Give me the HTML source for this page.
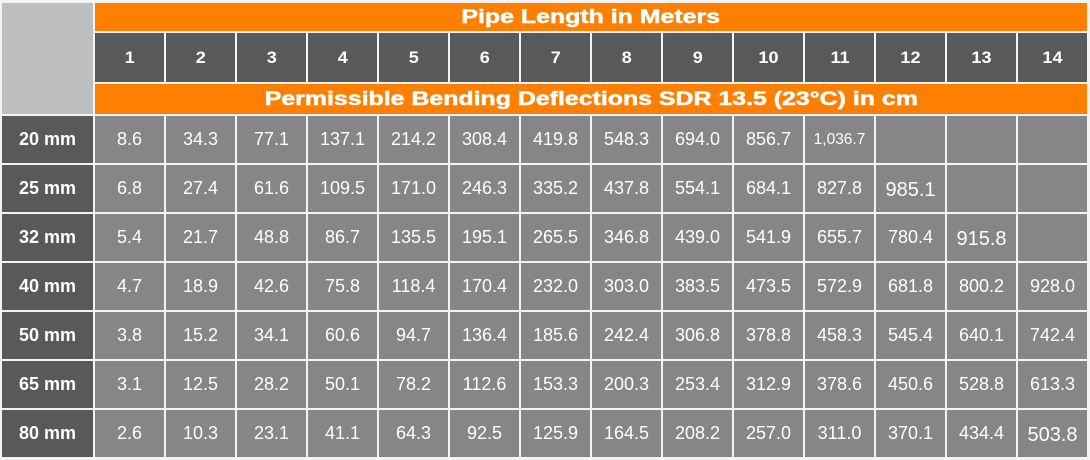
<!DOCTYPE html>
<html>
<head>
<meta charset="utf-8">
<style>
  html, body { margin: 0; padding: 0; }
  body { width: 1090px; height: 460px; background: #f3f3f3; overflow: hidden; position: relative;
         font-family: "Liberation Sans", Arial, sans-serif; }
  .grid { position: absolute; left: 2px; top: 3px; display: grid;
          grid-template-columns: 91px repeat(14, 69px);
          grid-template-rows: 28px 49px 30px repeat(7, 47px);
          column-gap: 2px; row-gap: 2px; }
  .grid > div { display: flex; align-items: center; justify-content: center; color: #fff; white-space: nowrap; }
  .tl { grid-column: 1; grid-row: 1 / span 3; background: #bdbec0; }
  .or { background: #ff7f00; font-weight: bold; font-size: 19px; -webkit-text-stroke: 0.5px #fff; }
  .or span { display: inline-block; transform: scaleX(1.31); }
  .t1 { grid-column: 2 / span 14; grid-row: 1; padding-top: 1px; }
  .t2 { grid-column: 2 / span 14; grid-row: 3; padding-top: 1px; }
  .h { background: #58595b; font-weight: bold; font-size: 17px; }
  .h span { display: inline-block; transform: scaleX(1.06); }
  .r { background: #58595b; font-weight: bold; font-size: 18px; }
  .d { background: #868688; font-size: 18px; }
  .big { font-size: 20px; padding-top: 3px; }
  .sm { font-size: 15.5px; }
</style>
</head>
<body>
<div class="grid">
  <div class="tl"></div>
  <div class="or t1"><span>Pipe Length in Meters</span></div>
  <div class="h"><span>1</span></div><div class="h"><span>2</span></div><div class="h"><span>3</span></div><div class="h"><span>4</span></div><div class="h"><span>5</span></div><div class="h"><span>6</span></div><div class="h"><span>7</span></div><div class="h"><span>8</span></div><div class="h"><span>9</span></div><div class="h"><span>10</span></div><div class="h"><span>11</span></div><div class="h"><span>12</span></div><div class="h"><span>13</span></div><div class="h"><span>14</span></div>
  <div class="or t2"><span>Permissible Bending Deflections SDR 13.5 (23°C) in cm</span></div>

  <div class="r">20 mm</div>
  <div class="d">8.6</div><div class="d">34.3</div><div class="d">77.1</div><div class="d">137.1</div><div class="d">214.2</div><div class="d">308.4</div><div class="d">419.8</div><div class="d">548.3</div><div class="d">694.0</div><div class="d">856.7</div><div class="d sm">1,036.7</div><div class="d"></div><div class="d"></div><div class="d"></div>

  <div class="r">25 mm</div>
  <div class="d">6.8</div><div class="d">27.4</div><div class="d">61.6</div><div class="d">109.5</div><div class="d">171.0</div><div class="d">246.3</div><div class="d">335.2</div><div class="d">437.8</div><div class="d">554.1</div><div class="d">684.1</div><div class="d">827.8</div><div class="d big">985.1</div><div class="d"></div><div class="d"></div>

  <div class="r">32 mm</div>
  <div class="d">5.4</div><div class="d">21.7</div><div class="d">48.8</div><div class="d">86.7</div><div class="d">135.5</div><div class="d">195.1</div><div class="d">265.5</div><div class="d">346.8</div><div class="d">439.0</div><div class="d">541.9</div><div class="d">655.7</div><div class="d">780.4</div><div class="d big">915.8</div><div class="d"></div>

  <div class="r">40 mm</div>
  <div class="d">4.7</div><div class="d">18.9</div><div class="d">42.6</div><div class="d">75.8</div><div class="d">118.4</div><div class="d">170.4</div><div class="d">232.0</div><div class="d">303.0</div><div class="d">383.5</div><div class="d">473.5</div><div class="d">572.9</div><div class="d">681.8</div><div class="d">800.2</div><div class="d">928.0</div>

  <div class="r">50 mm</div>
  <div class="d">3.8</div><div class="d">15.2</div><div class="d">34.1</div><div class="d">60.6</div><div class="d">94.7</div><div class="d">136.4</div><div class="d">185.6</div><div class="d">242.4</div><div class="d">306.8</div><div class="d">378.8</div><div class="d">458.3</div><div class="d">545.4</div><div class="d">640.1</div><div class="d">742.4</div>

  <div class="r">65 mm</div>
  <div class="d">3.1</div><div class="d">12.5</div><div class="d">28.2</div><div class="d">50.1</div><div class="d">78.2</div><div class="d">112.6</div><div class="d">153.3</div><div class="d">200.3</div><div class="d">253.4</div><div class="d">312.9</div><div class="d">378.6</div><div class="d">450.6</div><div class="d">528.8</div><div class="d">613.3</div>

  <div class="r">80 mm</div>
  <div class="d">2.6</div><div class="d">10.3</div><div class="d">23.1</div><div class="d">41.1</div><div class="d">64.3</div><div class="d">92.5</div><div class="d">125.9</div><div class="d">164.5</div><div class="d">208.2</div><div class="d">257.0</div><div class="d">311.0</div><div class="d">370.1</div><div class="d">434.4</div><div class="d big">503.8</div>
</div>
</body>
</html>
